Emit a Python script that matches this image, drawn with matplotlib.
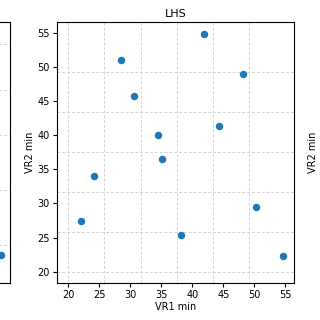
import matplotlib
matplotlib.use("Agg")
import matplotlib.pyplot as plt
import numpy as np

# LHS sample points (VR1 min, VR2 min)
vr1 = [28.45, 30.55, 34.47, 41.89, 48.23, 44.35, 24.1, 22.05, 35.06, 38.18, 50.27, 54.58]
vr2 = [50.98, 45.76, 40.0, 54.79, 48.89, 41.28, 34.0, 27.38, 36.49, 25.41, 29.47, 22.30]

# LHS strata boundaries (6 strata over [20, 55])
strata_lo = 20.0
strata_hi = 55.0
n_strata = 6

# Partially visible neighbouring panel (left)
left_x = [54.9]
left_y = [22.5]
left_grid_y = [53.3, 46.6, 40.0, 31.96, 23.9]

title = "LHS"
xlabel = "VR1 min"
ylabel = "VR2 min"
xticks = [20, 25, 30, 35, 40, 45, 50, 55]
yticks = [20, 25, 30, 35, 40, 45, 50, 55]

plt.rcParams['font.family'] = ['DejaVu Sans']
fig = plt.figure(figsize=(3.2, 3.2), dpi=100)

W, H = 320.0, 320.0
ax_l, ax_r, ax_t, ax_b = 57, 294, 22.3, 283.3
w = (ax_r - ax_l) / W
h = (ax_b - ax_t) / H
b = 1 - ax_b / H

xlim = (18.2, 56.4)
ylim = (18.3, 56.5)
gc = dict(color='#d4d4d4', linestyle=(0, (3, 2)), linewidth=0.7, zorder=0)

# main axes
ax = fig.add_axes([ax_l / W, b, w, h])
bounds = strata_lo + np.arange(n_strata) * (strata_hi - strata_lo) / n_strata
for v in bounds:
    ax.axvline(v, **gc)
    ax.axhline(v, **gc)
ax.scatter(vr1, vr2, s=19, color='#1f77b4', zorder=3)
ax.set_xlim(*xlim)
ax.set_ylim(*ylim)
ax.set_xticks(xticks)
ax.set_yticks(yticks)
ax.tick_params(labelsize=7, length=3, width=0.8, pad=2)
ax.set_xlabel(xlabel, fontsize=7, labelpad=1)
ax.set_ylabel(ylabel, fontsize=7, labelpad=2)
ax.set_title(title, fontsize=8, pad=4)

# left neighbour (partially visible)
axL = fig.add_axes([(10 - (ax_r - ax_l)) / W, b, w, h])
for v in left_grid_y:
    axL.axhline(v, **gc)
axL.scatter(left_x, left_y, s=19, color='#1f77b4', zorder=3)
axL.set_xlim(*xlim)
axL.set_ylim(*ylim)
axL.set_xticks([])
axL.set_yticks([])

# right neighbour (only y label visible)
axR = fig.add_axes([340 / W, b, w, h])
axR.set_xlim(*xlim)
axR.set_ylim(*ylim)
axR.set_xticks(xticks)
axR.set_yticks(yticks)
axR.tick_params(labelsize=7, length=3, width=0.8, pad=2)
axR.set_ylabel(ylabel, fontsize=7, labelpad=2)

fig.savefig("out.png", dpi=100)
